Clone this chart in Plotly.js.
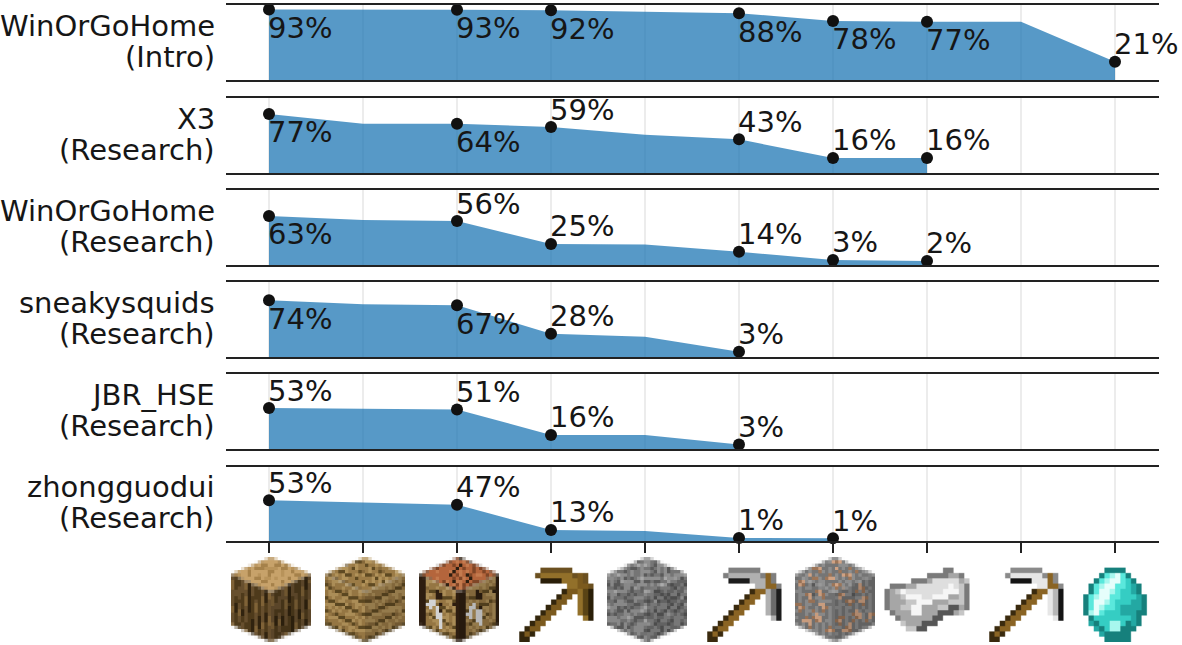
<!DOCTYPE html>
<html><head><meta charset="utf-8">
<script src="https://cdn.plot.ly/plotly-3.0.1.min.js"></script>
<style>html,body{margin:0;padding:0;background:#fff}#chart{width:1182px;height:645px}</style>
</head><body><div id="chart"></div>
<script>
const teams = ['WinOrGoHome','X3','WinOrGoHome','sneakysquids','JBR_HSE','zhongguodui'];
const leagues = ['(Intro)','(Research)','(Research)','(Research)','(Research)','(Research)'];
const stages = [0,1,2,3,4,5,6,7,8,9];
const heights1 = [.93,.93,.925,.92,.90,.88,.78,.77,.77,.25];
const heights2 = [.78,.654,.654,.61,.51,.45,.208,.208];
const heights3 = [.65,.597,.584,.286,.28,.186,.078,.065];
const heights4 = [.749,.697,.684,.316,.277,.082];
const heights5 = [.544,.535,.527,.196,.196,.07];
const heights6 = [.549,.518,.491,.158,.145,.053,.05];
const heights = [heights1,heights2,heights3,heights4,heights5,heights6];
const labels1 = ['93%',null,'93%','92%',null,'88%','78%','77%',null,'21%'];
const labels2 = ['77%',null,'64%','59%',null,'43%','16%','16%'];
const labels3 = ['63%',null,'56%','25%',null,'14%','3%','2%'];
const labels4 = ['74%',null,'67%','28%',null,'3%'];
const labels5 = ['53%',null,'51%','16%',null,'3%'];
const labels6 = ['53%',null,'47%','13%',null,'1%','1%'];
const labels = [labels1,labels2,labels3,labels4,labels5,labels6];
// 1 = label under its dot
const below1 = [1,0,1,1,0,1,1,1,0,0];
const below2 = [1,0,1,0,0,0,0,0];
const below3 = [1,0,0,0,0,0,0,0];
const below4 = [1,0,1,0,0,0];
const below5 = [0,0,0,0,0,0];
const below6 = [0,0,0,0,0,0,0];
const below = [below1,below2,below3,below4,below5,below6];
const panelTop = [4,97,189,281,373,466];
const panelBottom = [81,174,266,358,450,542];

const W=1182,H=645,FONT='"DejaVu Sans", sans-serif',INK='#161616',FS=29;

/* ---- icon textures ---- */
const P={a:'#5f4a22',b:'#9b7b46',c:'#b2935a',d:'#86693a',k:'#2e1e10',w:'#dcdcdc',
 o:'#b4653c',p:'#c47a4e',q:'#7f4526'};
const LOG={a:'#33240f',b:'#513c1c',c:'#6b5230',d:'#846639'};
const LTOP={e:'#8a6a3a',f:'#b8935a',g:'#c7a26a',h:'#a5814a'};
const STONE={1:'#5a5a5a',2:'#757575',3:'#8e8e8e',4:'#a8a8a8',o:'#9c7558',O:'#d0a283'};
const logSide=["cbabcdbacbdbcabc","cbabcdbacbdbcabd","dbabcdbacbcbcabd","dbacccbacbcbdabc","dcacbcbabcabdbbc","ccacbdbabcabdbac","cbacbdbbbdabcbac","cbabbdcabdabcaac","cabcbcdabdbbcabd","cabcacdabcbacabd","dabdacdbbcbacbbd","dbbdacdbacbadbac","cbacbccbacbadbac","cbacbbcbadcbcbac","cbabcbbbadcbcabc","dbabcdbbacdbcabc"];
const logTop=["hffhffhfffhfffhf","fggggggggggggggf","fghhhhghhhhhhhgf","fghgggggggggghgf","hghgfffffffgghgh","fghgfgggggfgghgf","fgghfghhhgfgghgf","fghgfghgggfgghgf","hghgfghhhgfgghgh","fggggfgggggfghgf","fghgfffffffgghgf","fghggggggggggggf","fghhhhhhghhhhhgf","fggggggggggggggf","hfgggggggggggggh","fhfffhffhffhfffh"];
const planks=["bcbbccbbcbbcbcbb","cbccbbccbccbbccb","ddbcbbcbdcbbcbbd","aaadaaaaaadaaaaa","ccbbcbcccbbcccbb","bcccbbccbbcbcbcc","bbdcbcbbcdbbcbbc","aaaaaadaaaaaadaa","bcbccbbcbcbcbbcc","cccbbccbccbbcccb","bdbcbbcbbbdcbcbb","aaadaaaaaaaadaaa","cbbcccbbcbbcbbcc","bccbbbccbccbccbb","dbcbbcbdbcbbdbcb","aaaaadaaaaaaadaa"];
const craftTop=["qkqqkqqqkqqkqqqk","qoopoqooopoqopoq","kpqoopkoqopooqpk","qoopkoopoqoopooq","qoqopoqokoopqpoq","kpookpoopoqoopok","qoqoopqpokoqoopq","qpoopkoopoopkoqq","kooqopoqoopoooqk","qokoopkoopqokopq","qpooqopoqoopoopq","kopkoopkoopqoqok","qoqoopooqokoopoq","qpoopqoopoopqopq","qokoopkoqopoqokq","kqqkqqqkqqkqqkqk"];
const craftSide=["kkcbccbbcbbcbckk","kkccbbccbccbbckk","kkbcbbkkdcbbcbkk","kkadaaakkadaaakk","kkbbcbckkbbcckkk","kkccbbkcbbcbcckk","kkdcwwcbkbbcbckk","kkaawwadaakaadkk","kkbwwccwkcbcbckk","kkcbwccwwbkcbckk","kkbcbcbwwcbcbckk","kkadaaawwaaadakk","kkbbccbcwbbcbckk","kkcbbbccwbcbcckk","kkcbbcbdbcbbdbkk","kkaaadaaaaaadakk"];
const cobble=["3321133321232133","3332123331122233","2331213322212332","1211332212333211","2334121123332233","3343223211211334","2332334322122433","1211333321333221","2213122113332122","3343212332311234","4332123343212333","2211233332123322","1233221221333211","3343312312233322","3322313332133233","1211122211221122"];
const ironOre=["2232332123322322","2ooO23322OO23222","3OOo3322oOOo3232","23o22231232o2322","2322oO2232233222","33232OOo23oO2322","23223oo22OOOo332","2322332232oo2322","2oO2322232232332","oOOo332oO3322322","2oo23223OOo23322","3322322ooO232o32","2232oO3232232OOo","323OOOo23223oOo2","22332o2232322322","3223232322332223"];
/* sprites */
const HEADS={wood:{m:'#6b5020',L:'#92702a',M:'#594315',k:'#2a1e08',s:'#7b5a1e'},
 stone:{m:'#7f7f7f',L:'#b0b0b0',M:'#6a6a6a',k:'#1c1c1c',s:'#8a6424'},
 iron:{m:'#8a8a8a',L:'#e6e6e6',M:'#b6b6b6',k:'#141414',s:'#8a6424'}};
const pick=["................","................","......mmmmmm....",".....mLLLLLLmsm.","......kkkkLLLsm.","...........LLssm","..........tssLMk",".........tss.LMk","........tss..LMk",".......tss...LMk","......tss....LMk",".....tss......Lk","....tss.........","...tss..........","..tst...........","..tt............"];
const ingot=["................","................","...........gg...","........ggggaag.",".....gggalllllac.",".gggaallllllwlcg","gacwlllllllwwwcg","gaacwwwllwwwaacg","gaaaccwwwaaacccg","gaaccwwaaaccddag",".gaaawwaaadddac.","..gaaaaaadd.....","...caaaddd......","....ccdd........"];
const INGOT={g:'#7a7a7a',a:'#a6a6a6',c:'#c6c6c6',l:'#dedede',w:'#f6f6f6',d:'#565656'};
const diamond=["................","................","......TTTT......",".....TclwcT.....","....TclwwctT....","...TclwwcctsT...","...TcwwlcttsT...","..TclwwcctttsT..","..TcwwlctttssT..","..TcwlcctssssT..","..TlwctttsssTT..","...TtttttttsT...","...sTttlltTsT...","....sTtllTTT....",".....sTTTTT.....","......TTTTT....."];
const DIAMOND={T:'#16807c',t:'#35cdc3',s:'#23a8a3',c:'#5ae8dc',l:'#a8f7ee',w:'#e6fefb'};

function gridCanvas(rows,pal,shade){
  const c=document.createElement('canvas');c.width=c.height=16;const g=c.getContext('2d');
  rows.forEach((r,y)=>{for(let x=0;x<16;x++){const col=pal[r[x]];if(col){g.fillStyle=col;g.fillRect(x,y,1,1);}}});
  if(shade){g.globalCompositeOperation='source-atop';g.fillStyle='rgba(0,0,0,'+shade+')';g.fillRect(0,0,16,16);}
  return c;
}
function cube(top,topPal,side,sidePal,side2){
  const LW=24,LH=26;
  const c=document.createElement('canvas');c.width=LW;c.height=LH;const g=c.getContext('2d');g.imageSmoothingEnabled=false;
  const hw=LW/2,dy=LH*17.5/85,vh=LH*50/85;
  g.setTransform(hw/16,dy/16,-hw/16,dy/16,hw,0);g.drawImage(gridCanvas(top,topPal),0,0);
  g.setTransform(hw/16,dy/16,0,vh/16,0,dy);g.drawImage(gridCanvas(side,sidePal,.04),0,0);
  g.setTransform(hw/16,-dy/16,0,vh/16,hw,2*dy);g.drawImage(gridCanvas(side2||side,sidePal,.16),0,0);
  return up(c,4);
}
function up(c,k){
  const o=document.createElement('canvas');o.width=c.width*k;o.height=c.height*k;const g=o.getContext('2d');g.imageSmoothingEnabled=false;
  g.drawImage(c,0,0,o.width,o.height);return o.toDataURL('image/png');
}
const spr=(rows,pal)=>up(gridCanvas(rows,pal),4);
const CUBE_W=80,CUBE_H=85,SPR=85;
const icons=[
 {src:cube(logTop,LTOP,logSide,LOG),w:CUBE_W,h:CUBE_H,dx:2},
 {src:cube(planks,P,planks,P),w:CUBE_W,h:CUBE_H,dx:2},
 {src:cube(craftTop,P,craftSide,P),w:CUBE_W,h:CUBE_H,dx:2},
 {src:spr(pick,Object.assign({t:'#33260c'},HEADS.wood)),w:SPR,h:SPR,dx:0},
 {src:cube(cobble,STONE,cobble,STONE),w:CUBE_W,h:CUBE_H,dx:2},
 {src:spr(pick,Object.assign({t:'#3a2a0e'},HEADS.stone)),w:SPR,h:SPR,dx:0},
 {src:cube(ironOre,STONE,ironOre,STONE),w:CUBE_W,h:CUBE_H,dx:2},
 {src:spr(ingot,INGOT),w:SPR,h:SPR,dx:0},
 {src:spr(pick,Object.assign({t:'#3a2a0e'},HEADS.iron)),w:SPR,h:SPR,dx:0},
 {src:spr(diamond,DIAMOND),w:SPR,h:SPR,dx:0}
];

/* ---- chart ---- */
const PXU=94,X0=269,L=226,R=1159,INSET=1;
const xRange=[(L-X0)/PXU,(R-X0)/PXU];
const traces=[],annotations=[];
const layout={width:W,height:H,margin:{l:0,r:0,t:0,b:0},paper_bgcolor:'#fff',plot_bgcolor:'rgba(0,0,0,0)',showlegend:false,font:{family:FONT,size:FS,color:INK},annotations,images:[]};
heights.forEach((vals,i)=>{
  const n=i+1,xn=n===1?'x':'x'+n,yn=n===1?'y':'y'+n;
  const xs=stages.slice(0,vals.length);
  const h=panelBottom[i]-panelTop[i];
  traces.push({type:'scatter',mode:'lines',x:xs,y:vals,xaxis:xn,yaxis:yn,fill:'tozeroy',fillcolor:'rgba(31,119,180,0.75)',line:{width:0,color:'rgba(31,119,180,0.75)'},hoverinfo:'skip',cliponaxis:false});
  const mi=labels[i].map((l,k)=>l===null?-1:k).filter(k=>k>=0);
  traces.push({type:'scatter',mode:'markers',x:mi.map(k=>xs[k]),y:mi.map(k=>vals[k]),xaxis:xn,yaxis:yn,marker:{color:'#111',size:12},cliponaxis:false,hoverinfo:'skip'});
  mi.forEach(k=>annotations.push({xref:xn,yref:yn,x:xs[k],y:vals[k],text:labels[i][k],showarrow:false,xanchor:'left',yanchor:'middle',xshift:-2,yshift:below[i][k]?-18.5:17.5,font:{size:FS,color:INK,family:FONT},borderpad:0}));
  annotations.push({xref:'paper',yref:yn,x:216/W,y:.72,text:teams[i],showarrow:false,xanchor:'right',yanchor:'middle',font:{size:FS,color:INK,family:FONT},borderpad:0});
  annotations.push({xref:'paper',yref:yn,x:216/W,y:.31,text:leagues[i],showarrow:false,xanchor:'right',yanchor:'middle',font:{size:FS,color:INK,family:FONT},borderpad:0});
  const last=n===6;
  layout[n===1?'xaxis':'xaxis'+n]={domain:[L/W,R/W],range:xRange,anchor:yn,tickmode:'array',tickvals:stages,showticklabels:false,ticks:last?'outside':'',ticklen:10,tickwidth:2,tickcolor:'#222',showgrid:true,gridcolor:'#ececec',gridwidth:2,zeroline:false,showline:true,mirror:true,linecolor:'#222',linewidth:2,fixedrange:true};
  layout[n===1?'yaxis':'yaxis'+n]={domain:[1-(panelBottom[i]-INSET)/H,1-(panelTop[i]+INSET)/H],range:[INSET/h,1-INSET/h],anchor:xn,showticklabels:false,showgrid:false,zeroline:false,showline:false,ticks:'',fixedrange:true};
});
icons.forEach((ic,i)=>{
  layout.images.push({source:ic.src,xref:'x6',yref:'paper',x:stages[i]+ic.dx/PXU,y:1-557/H,sizex:ic.w/PXU,sizey:ic.h/H,xanchor:'center',yanchor:'top',sizing:'stretch',layer:'above'});
});
Plotly.newPlot('chart',traces,layout,{displayModeBar:false,staticPlot:true});
</script></body></html>
